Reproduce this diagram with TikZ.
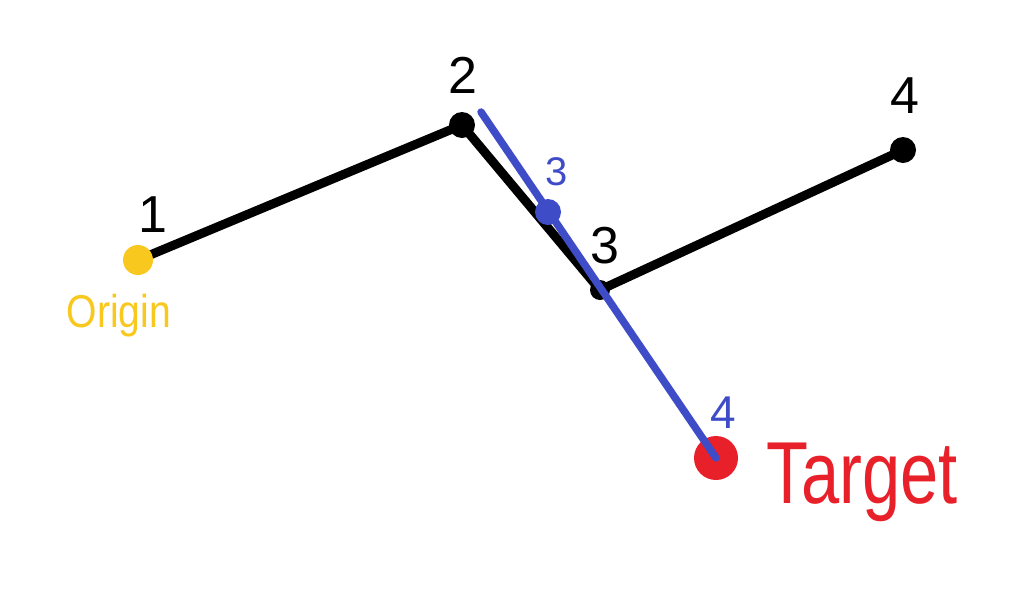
\documentclass[tikz,border=0pt]{standalone}
\usepackage{fontspec}
\setmainfont{Liberation Sans}
\usetikzlibrary{backgrounds}
\definecolor{ylw}{HTML}{F9C81E}
\definecolor{rd}{HTML}{E8202A}
\definecolor{bl}{HTML}{3F4CC8}
\tikzset{
  dot/.style={circle,fill=black,inner sep=0pt,minimum size=#1},
  blk/.style={draw=black,line width=9pt,line cap=round},
  blu/.style={draw=bl,line width=7.5pt,line cap=round},
  num/.style={anchor=base,inner sep=0pt,font=\fontsize{52}{52}\selectfont},
}
\begin{document}
\begin{tikzpicture}[x=1pt,y=-1pt]
\useasboundingbox (0,0) rectangle (1034,590);
% joints
\node[dot=30pt,fill=ylw] (o) at (138,260) {};
\node[dot=26pt] (j2) at (462,125) {};
\node[dot=20pt] (j3) at (600,290) {};
\node[dot=26pt] (j4) at (903,150) {};
\node[dot=44pt,fill=rd] (t) at (716,458) {};
\coordinate (b0) at (481,112);
\begin{scope}[on background layer]
\draw[blk] (o.center) -- (j2.center) -- (j3.center) -- (j4.center);
\end{scope}
\draw[blu] (b0) -- (t.center);
\node[dot=26pt,fill=bl] (b3) at (548,212) {};
% labels
\node[num] (l1) at (153,232) {1};
\node[num] (l2) at (463,93) {2};
\node[num] (l3) at (605,263) {3};
\node[num] (l4) at (905,113) {4};
\node[num,text=bl,font=\fontsize{40}{40}\selectfont] (lb3) at (557,185) {3};
\node[num,text=bl,font=\fontsize{46}{46}\selectfont] (lb4) at (723,428) {4};
\node[anchor=base,inner sep=0pt,text=ylw,font=\fontsize{46}{46}\selectfont,xscale=0.85] (orig) at (119,327) {Origin};
\node[anchor=base,inner sep=0pt,text=rd,font=\fontsize{88}{88}\selectfont,xscale=0.78] (tgt) at (862,503) {Target};
\end{tikzpicture}
\end{document}
